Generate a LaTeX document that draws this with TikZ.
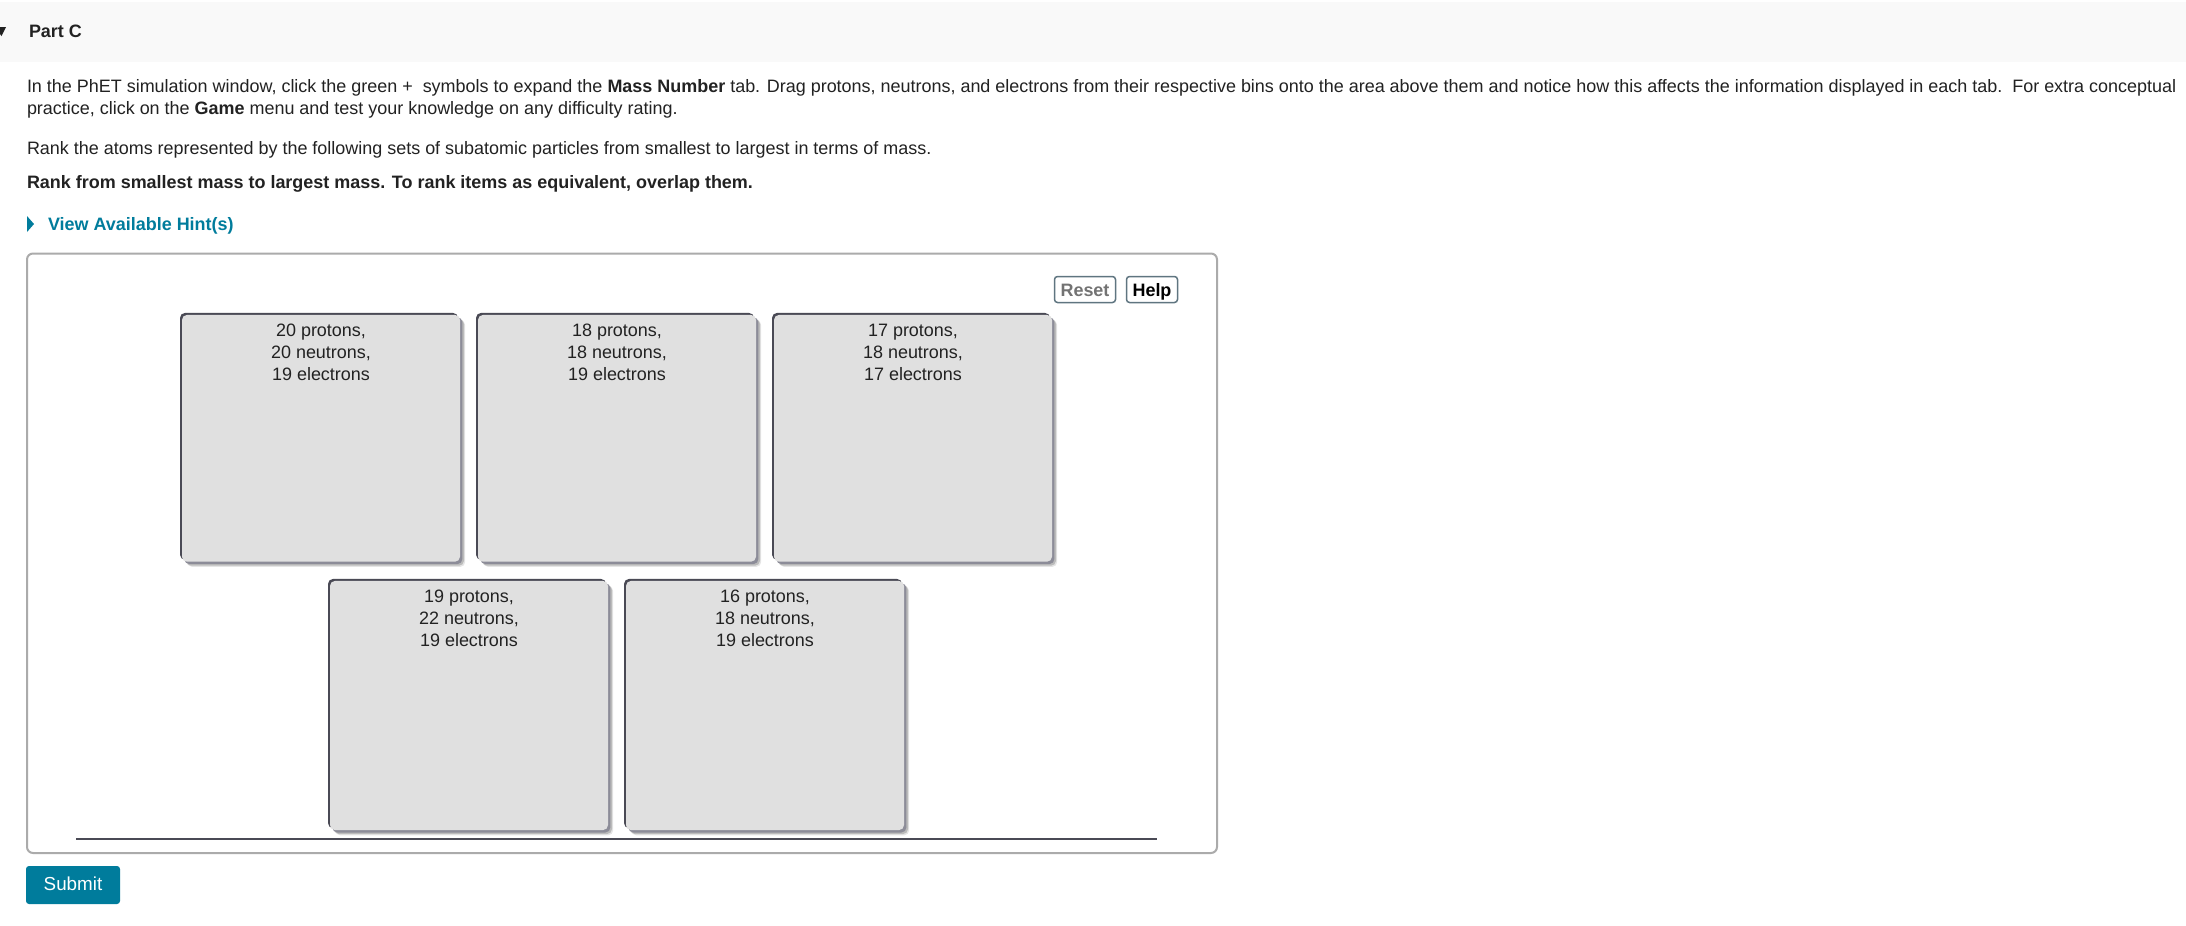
\documentclass[tikz,border=0pt]{standalone}
\usepackage{fontspec}
\setmainfont{Liberation Sans}
\definecolor{teal1}{HTML}{007C9C}
\definecolor{ink}{HTML}{222222}
\definecolor{cardedge}{HTML}{4A4A55}
\definecolor{cardfill}{HTML}{E0E0E0}
\definecolor{cardshadow}{HTML}{8C8C98}
\definecolor{btnedge}{HTML}{5F7580}
\newcommand{\bodysize}{\fontsize{8.98}{11}\selectfont}
\tikzset{
  x=0.5pt,y=-0.5pt,
  txt/.style={anchor=base west,inner sep=0pt,outer sep=0pt,text=ink,font=\bodysize},
  bold/.style={txt,font=\bodysize\bfseries},
  card/.style={fill=cardfill,rounded corners=2.5pt,minimum width=139pt,inner sep=0pt,outer sep=0pt,
    preaction={fill=black,opacity=.10,transform canvas={shift={(2.6pt,-2.6pt)}}},
    preaction={fill=black,opacity=.18,transform canvas={shift={(2pt,-2pt)}}},
    preaction={fill=cardshadow,transform canvas={shift={(1.2pt,-1.2pt)}}},
    preaction={fill=cardedge,transform canvas={shift={(-1pt,1pt)}}}},
  cardtext/.style={anchor=north,inner sep=0pt,outer sep=0pt,text=ink,font=\bodysize,align=center},
  btn/.style={draw=btnedge,line width=0.75pt,rounded corners=1.5pt,inner sep=0pt,outer sep=0pt,fill=white,font=\bodysize\bfseries},
}
\begin{document}
\begin{tikzpicture}
\useasboundingbox (0,0) rectangle (2186,926);
\fill[white] (0,0) rectangle (2186,926);
\fill[black!2.5] (0,2) rectangle (2186,62);
\fill[ink] (0,27) -- (6,27) -- (1.5,36) -- (0,34) -- cycle;
\node[bold] (part) at (29,38) {Part C};
\node[txt] (l1) at (27,92) {In the PhET simulation window, click the green +~~symbols to expand the \textbf{Mass Number} tab. Drag protons, neutrons, and electrons from their respective bins onto the area above them and notice how this affects the information displayed in each tab.~~For extra conceptual};
\node[txt] (l2) at (27,114) {practice, click on the \textbf{Game} menu and test your knowledge on any difficulty rating.};
\node[txt] (l3) at (27,154) {Rank the atoms represented by the following sets of subatomic particles from smallest to largest in terms of mass.};
\node[bold] (l4) at (27,188) {Rank from smallest mass to largest mass. To rank items as equivalent, overlap them.};
\fill[teal1] (27,216) -- (34,224) -- (27,232) -- cycle;
\node[bold,text=teal1] (hint) at (48,230) {View Available Hint(s)};
\draw[draw=black!33,line width=1pt,rounded corners=3pt,fill=white] (27,253.5) rectangle (1217,853);
\node[btn,text=black!55,minimum width=30.5pt,minimum height=13pt,text height=6.6pt,text depth=0pt] (reset) at (1085,289.5) {Reset};
\node[btn,text=black,minimum width=25.5pt,minimum height=13pt,text height=6.6pt,text depth=0pt] (help) at (1152,289.5) {Help};
\node[card,minimum height=123.4pt] (c1) at (321,438.3) {};
\node[card,minimum height=123.4pt] (c2) at (617,438.3) {};
\node[card,minimum height=123.4pt] (c3) at (913,438.3) {};
\node[card,minimum height=124.6pt] (c4) at (469,705.5) {};
\node[card,minimum height=124.6pt] (c5) at (765,705.5) {};
\node[cardtext] at ([yshift=-4.6pt]c1.north) {20 protons,\\20 neutrons,\\19 electrons};
\node[cardtext] at ([yshift=-4.6pt]c2.north) {18 protons,\\18 neutrons,\\19 electrons};
\node[cardtext] at ([yshift=-4.6pt]c3.north) {17 protons,\\18 neutrons,\\17 electrons};
\node[cardtext] at ([yshift=-4.6pt]c4.north) {19 protons,\\22 neutrons,\\19 electrons};
\node[cardtext] at ([yshift=-4.6pt]c5.north) {16 protons,\\18 neutrons,\\19 electrons};
\coordinate (b1) at (76,839);
\coordinate (b2) at (1157,839);
\draw[cardedge,line width=0.9pt] (b1) -- (b2);
\node[fill=teal1,text=white,rounded corners=1.5pt,minimum width=47pt,minimum height=19pt,inner sep=0pt,font=\fontsize{9.4}{11}\selectfont,text height=6.6pt,text depth=1.4pt] (submit) at (73,885) {Submit};
\end{tikzpicture}
\end{document}
